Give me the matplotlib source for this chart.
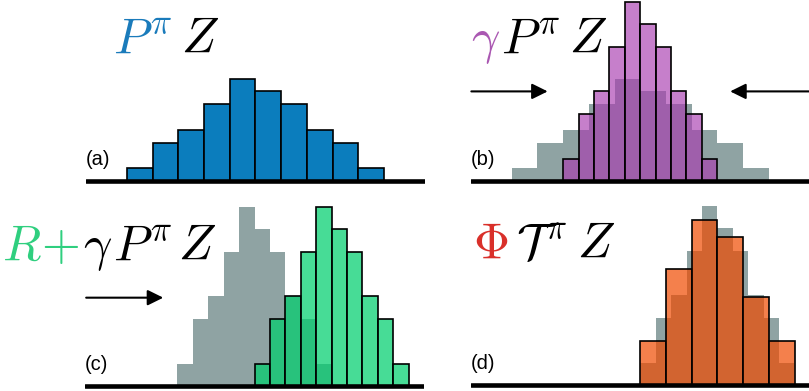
import matplotlib
matplotlib.use("Agg")
import matplotlib.pyplot as plt

plt.rcParams["mathtext.fontset"] = "cm"

W, H = 809, 391

# Distribution d'origine Z (bins de largeur 1)
z_left = [0, 1, 2, 3, 4, 5, 6, 7, 8, 9]
z_height = [1, 3, 4, 6, 8, 7, 6, 4, 3, 1]

# gamma * P Z : bins contractés (largeur 0.6 autour de 5)
gz_left = [2.0, 2.6, 3.2, 3.8, 4.4, 5.0, 5.6, 6.2, 6.8, 7.4]
gz_width = 0.6
gz_height = [1.75, 5.25, 7, 10.5, 14, 12.25, 10.5, 7, 5.25, 1.75]

# R + gamma P Z : décalage de la récompense
reward = 3

# Projection Phi T Z sur la grille d'origine
proj_left = [5, 6, 7, 8, 9, 10]
proj_height = [3.4, 9.05, 12.9, 11.6, 6.9, 3.4]

GRAY = "#8fa3a3"
BLUE = "#0b7dbd"
PURPLE = (0.66, 0.23, 0.69, 0.65)
GREEN = (0.0, 0.81, 0.43, 0.72)
ORANGE = (0.94, 0.29, 0.0, 0.70)

fig = plt.figure(figsize=(W / 100, H / 100), dpi=100)

UNIT_X, UNIT_Y = 25.7, 12.8
XLIM = (-1.6, 11.6)
YLIM = (-0.6, 14.2)


def panel(x0_px, base_px, label):
    # x0_px : pixel du bin 0, base_px : pixel de la ligne de base
    left = x0_px + XLIM[0] * UNIT_X
    width = (XLIM[1] - XLIM[0]) * UNIT_X
    bottom = base_px - YLIM[0] * UNIT_Y
    height = (YLIM[1] - YLIM[0]) * UNIT_Y
    ax = fig.add_axes([left / W, 1 - bottom / H, width / W, height / H])
    ax.set_xlim(XLIM)
    ax.set_ylim(YLIM)
    ax.axis("off")
    ax.axhline(0, color="black", lw=3.3, solid_capstyle="round", zorder=5)
    ax.text(-1.6, 1.25, label, fontsize=14.5, family="Liberation Sans",
            va="baseline", ha="left")
    return ax


edge = dict(edgecolor="black", linewidth=1.2, align="edge")

# (a)
ax = panel(127, 181, "(a)")
ax.bar(z_left, z_height, width=1, color=BLUE, **edge)

# (b)
ax = panel(511.7, 181, "(b)")
ax.bar(z_left, z_height, width=1, color=GRAY, linewidth=0, align="edge")
ax.bar(gz_left, gz_height, width=gz_width, color=PURPLE, **edge)
arrow = dict(arrowstyle="-|>,head_length=9.5,head_width=4.7", mutation_scale=1,
             lw=1.5, color="black", shrinkA=0, shrinkB=0)
ax.annotate("", xy=(1.4, 7), xytext=(-1.57, 7), arrowprops=arrow)
ax.annotate("", xy=(8.5, 7), xytext=(11.6, 7), arrowprops=arrow)

# (c)
ax = panel(126, 386, "(c)")
ax.bar(gz_left, gz_height, width=gz_width, color=GRAY, linewidth=0, align="edge")
ax.bar([l + reward for l in gz_left], gz_height, width=gz_width, color=GREEN, **edge)
ax.annotate("", xy=(1.45, 6.9), xytext=(-1.55, 6.9), arrowprops=arrow)

# (d)
ax = panel(511.8, 385, "(d)")
ax.bar([l + reward for l in gz_left], gz_height, width=gz_width, color=GRAY,
       linewidth=0, align="edge")
ax.bar(proj_left, proj_height, width=1, color=ORANGE, **edge)

# Titres en mathtext, morceaux colorés placés les uns après les autres
renderer = fig.canvas.get_renderer()


def title(x_px, y_px, pieces, size=36):
    x = x_px
    for s, c, gap in pieces:
        t = fig.text(x / W, 1 - y_px / H, s, color=c, fontsize=size,
                     va="baseline", ha="left")
        x = t.get_window_extent(renderer).x1 + gap


title(113, 53, [(r"$P^{\pi}$", "#1a7bbb", 8), (r"$Z$", "black", 0)])
title(471, 53, [(r"$\gamma$", "#aa58b2", 1), (r"$P^{\pi}$", "black", 8),
                (r"$Z$", "black", 0)])
title(2, 260, [(r"$R\!+$", "#2fcf7f", 4), (r"$\gamma$", "black", 0),
               (r"$P^{\pi}$", "black", 6), (r"$Z$", "black", 0)])
title(473, 258, [(r"$\Phi$", "#d9302a", 8), (r"$\mathcal{T}^{\pi}$", "black", 10),
                 (r"$Z$", "black", 0)])

fig.savefig("out.png", dpi=100)
